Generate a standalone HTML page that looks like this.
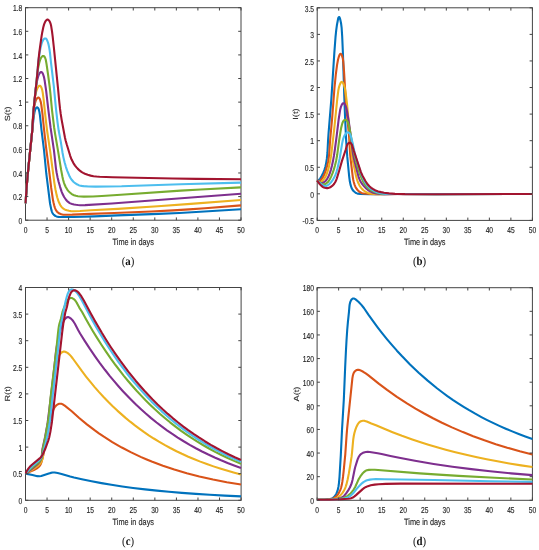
<!DOCTYPE html>
<html><head><meta charset="utf-8"><title>Figure</title>
<style>html,body{margin:0;padding:0;background:#fff;}svg{display:block;}text{text-rendering:geometricPrecision;}</style>
</head><body>
<svg width="539" height="550" viewBox="0 0 539 550" font-family="&quot;Liberation Sans&quot;, Arial, sans-serif">
<clipPath id="ca"><rect x="24.5" y="5.7" width="217" height="216.5"/></clipPath>
<rect x="25.5" y="7.7" width="215.5" height="212.5" fill="none" stroke="#444444" stroke-width="1"/>
<g clip-path="url(#ca)" fill="none" stroke-width="2.1" stroke-linejoin="round" stroke-linecap="butt"><path d="M25.5 203.3 L26.86 184.35 L27.81 173.39 L31.45 137.57 L33.64 117.7 L34.38 112.75 L35.13 109.86 L35.98 108.09 L36.58 107.47 L37.26 107.34 L37.9 107.77 L38.41 108.56 L38.8 109.47 L39.3 111.39 L39.94 115.34 L41.53 130.25 L44.01 150.1 L46.33 173.99 L50.09 203.75 L51.3 209.62 L51.86 211.54 L52.23 212.46 L52.69 213.34 L53.26 214.15 L53.94 214.87 L54.7 215.49 L55.55 216.01 L56.46 216.41 L57.41 216.69 L58.39 216.87 L60.38 217 L73.37 216.97 L94.37 216.39 L117.34 215.39 L158.32 213.84 L179.3 212.93 L200.26 211.79 L241 209.3" stroke="#0072BD"/><path d="M25.5 203.3 L26.78 185.35 L27.63 175.38 L32.24 130.62 L32.52 126.63 L32.96 116.64 L33.3 112.65 L33.71 109.68 L34.4 105.74 L35.06 102.82 L35.65 100.91 L36.48 99.11 L37.03 98.3 L37.7 97.67 L38.43 97.47 L39.1 97.83 L39.61 98.58 L40.01 99.48 L40.87 102.35 L41.38 105.3 L42.49 114.23 L44.12 130.15 L46.28 149.02 L49.28 171.83 L51.16 187.72 L52.9 199.59 L53.5 202.53 L54.23 205.44 L54.78 207.36 L55.48 209.23 L56.47 210.94 L57.11 211.71 L57.82 212.4 L59.46 213.52 L61.29 214.29 L63.24 214.68 L65.23 214.76 L72.23 214.66 L90.21 213.83 L114.19 213.01 L151.16 211.48 L173.14 210.4 L189.11 209.41 L205.06 208.24 L241 205.4" stroke="#D95319"/><path d="M25.5 203.3 L26.78 185.35 L27.63 175.38 L32.24 130.62 L33.38 112.66 L34.35 100.7 L34.78 97.73 L35.38 94.79 L36.12 91.88 L36.72 89.98 L37.48 88.13 L38.5 86.45 L39.15 85.85 L39.87 85.7 L40.54 86.11 L41.06 86.88 L41.48 87.77 L42.13 89.66 L42.72 92.59 L43.64 99.53 L45.4 116.44 L46.92 129.35 L50.15 151.11 L54.36 182.83 L55.51 189.74 L56.55 194.63 L57.28 197.54 L58.18 200.4 L58.93 202.25 L60.25 204.94 L61.32 206.62 L62.65 208.09 L64.27 209.24 L65.16 209.68 L67.04 210.34 L68.98 210.81 L70.96 211.11 L73.95 211.22 L79.95 211.03 L90.92 210.21 L117.88 208.85 L157.8 206.26 L190.71 203.91 L241 200" stroke="#EDB120"/><path d="M25.5 203.3 L27.36 178.37 L28.81 163.44 L32.06 132.61 L32.55 126.63 L33.53 110.66 L35.66 88.77 L36.07 85.8 L36.62 82.85 L37.25 79.91 L38.01 77.01 L38.65 75.12 L39.53 73.34 L40.11 72.57 L40.79 72.05 L41.52 72.04 L42.16 72.55 L42.67 73.35 L43.08 74.25 L44 77.1 L44.74 81.03 L46.16 90.93 L48.35 109.8 L50.58 127.66 L53.95 150.41 L55.94 168.3 L56.55 172.25 L57.51 177.16 L58.69 182.02 L60.07 186.82 L61.61 191.58 L62.73 194.36 L64.13 197.01 L65.81 199.49 L67.11 201 L67.82 201.7 L69.41 202.89 L70.29 203.37 L72.15 204.05 L74.1 204.5 L76.07 204.83 L78.06 205.07 L80.05 205.18 L85.05 205.12 L112 203.43 L124.97 202.53 L241 193.7" stroke="#7E2F8E"/><path d="M25.5 203.3 L26.71 186.34 L27.45 177.37 L28.91 162.44 L32.06 132.61 L32.55 126.63 L33.61 109.67 L36.22 84.8 L37.19 73.85 L37.63 70.88 L38.55 65.96 L39.2 63.04 L40.02 60.15 L40.79 58.32 L41.29 57.46 L41.9 56.69 L42.61 56.11 L43.39 55.93 L44.1 56.27 L44.67 57 L45.11 57.87 L45.77 59.75 L46.47 63.68 L48.07 74.57 L49.63 86.46 L50.39 93.42 L52.03 110.34 L54.1 127.22 L55.15 134.14 L58.21 151.87 L61.08 169.64 L62.38 176.52 L63.01 179.45 L63.81 182.34 L64.49 184.22 L65.72 186.96 L67.24 189.54 L68.46 191.12 L69.85 192.54 L71.41 193.79 L73.11 194.82 L74.02 195.24 L75.92 195.83 L77.89 196.18 L80.87 196.47 L83.86 196.63 L92.86 196.43 L101.85 195.97 L120.81 194.75 L180.67 190.66 L200.64 189.52 L241 187.4" stroke="#77AC30"/><path d="M25.5 203.3 L26.71 186.34 L27.45 177.37 L28.91 162.44 L32.06 132.61 L32.55 126.63 L33.61 109.67 L37.23 74.85 L38.35 60.9 L39.92 51.03 L40.71 47.11 L41.44 44.2 L42.05 42.29 L42.88 40.49 L43.43 39.66 L44.07 38.94 L44.83 38.47 L45.61 38.46 L46.29 38.95 L46.82 39.74 L47.24 40.63 L47.95 42.5 L48.52 44.41 L49.14 47.35 L49.64 50.3 L50.03 53.28 L50.94 62.23 L53.8 86.06 L55.98 108.96 L57.6 122.86 L58.73 130.78 L60.6 140.6 L62.49 152.45 L63.42 157.37 L64.58 162.23 L65.96 167.04 L67.27 170.81 L69.16 175.44 L70.53 178.1 L71.65 179.75 L73.67 181.96 L75.21 183.23 L76.89 184.31 L78.7 185.15 L79.64 185.46 L81.59 185.89 L83.57 186.13 L88.56 186.47 L95.56 186.59 L121.56 186.29 L180.52 184.28 L241 182.6" stroke="#4DBEEE"/><path d="M25.5 203.3 L26.78 185.35 L27.63 175.38 L32.24 130.62 L33.31 113.65 L33.7 108.67 L37.04 76.84 L38.51 59.91 L39.27 52.95 L40.16 46.01 L41.59 36.11 L42.27 32.17 L43.3 27.28 L44.08 24.38 L44.82 22.53 L45.8 20.8 L46.41 20.06 L47.13 19.58 L47.91 19.59 L48.63 20.08 L49.24 20.84 L50.18 22.58 L50.54 23.51 L51.05 25.44 L52.01 31.36 L52.65 36.32 L53.84 47.25 L57.9 87.05 L59.29 101.98 L60.04 108.94 L60.71 113.9 L61.66 119.82 L64.94 137.52 L65.62 140.44 L66.7 144.29 L70.2 155.77 L71.6 159.51 L73.42 163.07 L75.06 165.58 L76.3 167.15 L77.64 168.63 L79.83 170.67 L81.43 171.87 L83.13 172.91 L84.92 173.8 L87.73 174.85 L90.62 175.63 L93.57 176.19 L96.55 176.53 L99.54 176.74 L112.53 177.22 L172.52 178.47 L196.52 178.83 L241 179.3" stroke="#A2142F"/></g>
<path d="M25.5 220.2v-2.8M25.5 7.7v2.8M47.05 220.2v-2.8M47.05 7.7v2.8M68.6 220.2v-2.8M68.6 7.7v2.8M90.15 220.2v-2.8M90.15 7.7v2.8M111.7 220.2v-2.8M111.7 7.7v2.8M133.25 220.2v-2.8M133.25 7.7v2.8M154.8 220.2v-2.8M154.8 7.7v2.8M176.35 220.2v-2.8M176.35 7.7v2.8M197.9 220.2v-2.8M197.9 7.7v2.8M219.45 220.2v-2.8M219.45 7.7v2.8M241 220.2v-2.8M241 7.7v2.8M25.5 220.2h2.8M241 220.2h-2.8M25.5 196.59h2.8M241 196.59h-2.8M25.5 172.98h2.8M241 172.98h-2.8M25.5 149.37h2.8M241 149.37h-2.8M25.5 125.76h2.8M241 125.76h-2.8M25.5 102.14h2.8M241 102.14h-2.8M25.5 78.53h2.8M241 78.53h-2.8M25.5 54.92h2.8M241 54.92h-2.8M25.5 31.31h2.8M241 31.31h-2.8M25.5 7.7h2.8M241 7.7h-2.8" stroke="#444444" stroke-width="1" fill="none"/>
<g font-size="8.6" fill="#262626" stroke="#262626" stroke-width="0.15"><text transform="translate(25.5 232.7) scale(0.78 1)" text-anchor="middle">0</text><text transform="translate(47.05 232.7) scale(0.78 1)" text-anchor="middle">5</text><text transform="translate(68.6 232.7) scale(0.78 1)" text-anchor="middle">10</text><text transform="translate(90.15 232.7) scale(0.78 1)" text-anchor="middle">15</text><text transform="translate(111.7 232.7) scale(0.78 1)" text-anchor="middle">20</text><text transform="translate(133.25 232.7) scale(0.78 1)" text-anchor="middle">25</text><text transform="translate(154.8 232.7) scale(0.78 1)" text-anchor="middle">30</text><text transform="translate(176.35 232.7) scale(0.78 1)" text-anchor="middle">35</text><text transform="translate(197.9 232.7) scale(0.78 1)" text-anchor="middle">40</text><text transform="translate(219.45 232.7) scale(0.78 1)" text-anchor="middle">45</text><text transform="translate(241 232.7) scale(0.78 1)" text-anchor="middle">50</text><text transform="translate(22.3 223.9) scale(0.78 1)" text-anchor="end">0</text><text transform="translate(22.3 200.29) scale(0.78 1)" text-anchor="end">0.2</text><text transform="translate(22.3 176.68) scale(0.78 1)" text-anchor="end">0.4</text><text transform="translate(22.3 153.07) scale(0.78 1)" text-anchor="end">0.6</text><text transform="translate(22.3 129.46) scale(0.78 1)" text-anchor="end">0.8</text><text transform="translate(22.3 105.84) scale(0.78 1)" text-anchor="end">1</text><text transform="translate(22.3 82.23) scale(0.78 1)" text-anchor="end">1.2</text><text transform="translate(22.3 58.62) scale(0.78 1)" text-anchor="end">1.4</text><text transform="translate(22.3 35.01) scale(0.78 1)" text-anchor="end">1.6</text><text transform="translate(22.3 11.4) scale(0.78 1)" text-anchor="end">1.8</text></g>
<text transform="translate(133.25 244.8) scale(0.8 1)" text-anchor="middle" font-size="9.2" fill="#262626" stroke="#262626" stroke-width="0.15">Time in days</text>
<text transform="translate(9.6 113.95) scale(0.8 1) rotate(-90)" text-anchor="middle" font-size="9.2" fill="#262626" stroke="#262626" stroke-width="0.15">S(t)</text>
<text transform="translate(128.05 264.7) scale(0.9 1)" text-anchor="middle" font-size="12.0" fill="#111" font-family="&quot;Liberation Serif&quot;, serif">(<tspan font-weight="bold">a</tspan>)</text>
<clipPath id="cb"><rect x="316.2" y="5.8" width="216.7" height="216.6"/></clipPath>
<rect x="317.2" y="7.8" width="215.2" height="212.6" fill="none" stroke="#444444" stroke-width="1"/>
<g clip-path="url(#cb)" fill="none" stroke-width="2.1" stroke-linejoin="round" stroke-linecap="butt"><path d="M317 180.5 L317.95 180.36 L318.82 180 L319.54 179.38 L320.15 178.61 L321.21 176.92 L323.43 172.44 L324.53 169.65 L325.36 166.77 L326.19 162.86 L326.81 158.91 L327.43 152.94 L328.08 139.96 L328.57 132.98 L331.34 99.09 L334.32 53.19 L335.5 37.23 L336.2 30.27 L336.88 25.31 L338.17 18.44 L338.46 17.56 L338.86 17.01 L339.32 17.11 L339.72 17.78 L340.29 19.66 L341.1 23.58 L341.61 27.54 L342.19 36.52 L342.93 53.51 L344.18 93.49 L345.08 117.47 L346.15 140.44 L347.24 156.41 L349.16 176.31 L349.81 181.27 L350.65 185.18 L351.58 188.02 L352.54 189.76 L353.8 191.3 L355.34 192.55 L356.21 193.03 L357.13 193.4 L358.09 193.65 L360.07 193.87 L369.06 194.16 L400.06 194 L532.4 194" stroke="#0072BD"/><path d="M317 180.5 L317.89 180.89 L318.79 181.08 L319.66 180.9 L320.43 180.37 L321.11 179.66 L322.88 177.25 L324.24 174.59 L325.67 170.85 L327.11 166.07 L328.23 161.19 L328.83 157.24 L329.24 153.26 L330.19 139.3 L332.05 119.38 L334.42 88.47 L335.79 74.54 L337.11 64.63 L338 59.71 L338.82 56.83 L339.5 54.96 L339.96 54.17 L340.52 53.78 L341.12 54.03 L341.61 54.74 L341.99 55.64 L342.81 58.52 L343.25 61.48 L343.96 70.45 L345.65 98.4 L346.81 112.35 L349.06 136.25 L350.14 154.22 L350.74 160.18 L352.79 177.06 L353.3 180.02 L353.76 181.96 L354.62 184.83 L355.37 186.68 L356.34 188.43 L357.54 190.01 L358.97 191.4 L359.77 191.99 L361.53 192.89 L362.48 193.2 L364.44 193.56 L370.42 193.98 L375.42 194.13 L398.42 194 L532.4 194" stroke="#D95319"/><path d="M317 180.5 L318.7 181.54 L319.58 181.92 L320.49 182.02 L321.35 181.74 L322.13 181.17 L322.82 180.47 L324.67 178.11 L326.13 175.5 L327.23 172.71 L328.63 167.91 L330.35 160.1 L331.01 156.15 L331.68 151.2 L334.5 126.36 L337.3 98.5 L338.31 90.57 L338.87 87.62 L339.77 84.76 L340.58 82.96 L341.13 82.23 L341.78 81.91 L342.45 82.19 L343 82.9 L343.46 83.77 L344.19 85.63 L344.91 88.53 L345.73 93.47 L347.06 104.38 L348.93 124.3 L350.42 138.22 L351.31 150.18 L351.7 154.16 L352.67 160.08 L355.77 174.76 L356.45 177.68 L357.33 180.54 L358.43 183.34 L359.78 186.01 L360.91 187.65 L362.22 189.15 L363.7 190.49 L365.33 191.65 L367.1 192.56 L368.03 192.91 L369.97 193.38 L373.93 193.88 L378.92 194.13 L397.92 194 L532.4 194" stroke="#EDB120"/><path d="M317 180.5 L319.49 182.17 L320.35 182.65 L321.27 182.94 L322.21 182.97 L323.13 182.7 L323.98 182.23 L325.49 180.94 L326.16 180.21 L327.33 178.59 L328.73 175.95 L329.85 173.17 L331.03 169.34 L332 165.46 L333.06 160.58 L333.95 155.66 L334.84 149.72 L336.68 135.85 L338.72 118.97 L340.11 110.08 L340.82 107.17 L341.55 105.31 L342.01 104.44 L342.57 103.67 L343.24 103.22 L343.96 103.3 L344.58 103.89 L345.08 104.72 L345.51 105.62 L346.18 107.5 L346.88 110.41 L348.54 120.27 L349.28 125.22 L350.48 134.14 L352.17 148.03 L353.02 153.97 L353.8 157.9 L354.92 162.77 L358.44 176.32 L359.43 179.15 L360.26 180.96 L361.27 182.69 L362.41 184.32 L364.35 186.61 L366.45 188.75 L368.79 190.62 L370.51 191.62 L373.3 192.71 L376.21 193.39 L380.18 193.93 L384.17 194.12 L398.17 194 L436.17 194.08 L532.4 194" stroke="#7E2F8E"/><path d="M317 180.5 L320.17 182.93 L321.86 183.97 L322.78 184.27 L323.74 184.34 L324.69 184.16 L325.6 183.79 L326.44 183.28 L327.94 181.97 L328.58 181.21 L329.67 179.54 L331.03 176.87 L332.59 173.19 L333.88 169.41 L334.98 165.56 L336.14 160.7 L337.2 154.79 L339.07 140.92 L340.44 132.02 L341.14 128.09 L341.81 125.16 L342.35 123.24 L343.14 121.43 L343.72 120.64 L344.44 120.04 L345.27 119.76 L346.09 119.94 L346.81 120.52 L347.39 121.3 L347.85 122.17 L348.5 124.05 L350 130.88 L352.95 147.63 L354.38 154.48 L356.04 161.28 L357.35 166.1 L359.14 171.83 L360.5 175.59 L361.67 178.35 L363.4 181.96 L364.93 184.53 L366.14 186.12 L367.52 187.56 L369.85 189.44 L371.54 190.51 L374.22 191.85 L377.05 192.82 L379.97 193.48 L382.95 193.86 L386.94 194.03 L396.94 193.98 L435.94 194.14 L532.4 194" stroke="#77AC30"/><path d="M317 180.5 L322.38 184.97 L323.22 185.49 L324.12 185.87 L325.07 186.04 L326.03 185.96 L326.96 185.66 L328.64 184.63 L329.41 184 L330.83 182.59 L332.63 180.2 L334.12 177.6 L335.4 174.89 L336.44 172.08 L337.52 168.23 L339.69 158.47 L342.11 143.66 L342.69 140.72 L343.19 138.79 L343.86 136.91 L344.28 136 L344.77 135.13 L345.91 133.51 L346.58 132.8 L347.34 132.35 L348.15 132.35 L348.92 132.8 L349.57 133.51 L350.11 134.34 L350.88 136.17 L352.36 141.98 L354.64 152.74 L355.93 157.57 L357.72 163.3 L360.84 172.8 L362.3 176.52 L363.99 180.14 L365.41 182.78 L366.5 184.46 L367.74 186.03 L369.86 188.13 L371.43 189.37 L373.97 190.95 L375.78 191.81 L377.65 192.49 L380.56 193.22 L383.52 193.7 L386.51 193.93 L389.51 194 L435.51 194.15 L532.4 194" stroke="#4DBEEE"/><path d="M317 180.5 L319.4 183.7 L321.45 185.88 L323.04 187.07 L323.92 187.51 L324.86 187.83 L325.83 188.05 L326.81 188.14 L327.8 188.08 L328.76 187.88 L329.69 187.53 L331.4 186.52 L332.18 185.9 L333.59 184.49 L334.21 183.72 L335.3 182.04 L336.15 180.24 L336.85 178.37 L339.18 170.72 L341.9 161.09 L345.68 149.71 L346.83 145.88 L347.19 144.95 L347.66 144.08 L348.26 143.33 L349 142.8 L349.82 142.69 L350.61 143.04 L351.28 143.72 L351.81 144.54 L352.22 145.44 L353.68 150.22 L360.9 172.05 L362.52 175.71 L365.42 180.96 L367.04 183.48 L368.28 185.04 L369.68 186.47 L371.19 187.78 L372.8 188.95 L374.52 189.97 L376.34 190.78 L378.24 191.41 L381.15 192.14 L384.08 192.75 L389.04 193.4 L395.02 193.83 L405.02 194.1 L435.02 194.24 L532.4 194" stroke="#A2142F"/></g>
<path d="M317.2 220.4v-2.8M317.2 7.8v2.8M338.72 220.4v-2.8M338.72 7.8v2.8M360.24 220.4v-2.8M360.24 7.8v2.8M381.76 220.4v-2.8M381.76 7.8v2.8M403.28 220.4v-2.8M403.28 7.8v2.8M424.8 220.4v-2.8M424.8 7.8v2.8M446.32 220.4v-2.8M446.32 7.8v2.8M467.84 220.4v-2.8M467.84 7.8v2.8M489.36 220.4v-2.8M489.36 7.8v2.8M510.88 220.4v-2.8M510.88 7.8v2.8M532.4 220.4v-2.8M532.4 7.8v2.8M317.2 220.4h2.8M532.4 220.4h-2.8M317.2 193.83h2.8M532.4 193.83h-2.8M317.2 167.25h2.8M532.4 167.25h-2.8M317.2 140.68h2.8M532.4 140.68h-2.8M317.2 114.1h2.8M532.4 114.1h-2.8M317.2 87.53h2.8M532.4 87.53h-2.8M317.2 60.95h2.8M532.4 60.95h-2.8M317.2 34.38h2.8M532.4 34.38h-2.8M317.2 7.8h2.8M532.4 7.8h-2.8" stroke="#444444" stroke-width="1" fill="none"/>
<g font-size="8.6" fill="#262626" stroke="#262626" stroke-width="0.15"><text transform="translate(317.2 232.9) scale(0.78 1)" text-anchor="middle">0</text><text transform="translate(338.72 232.9) scale(0.78 1)" text-anchor="middle">5</text><text transform="translate(360.24 232.9) scale(0.78 1)" text-anchor="middle">10</text><text transform="translate(381.76 232.9) scale(0.78 1)" text-anchor="middle">15</text><text transform="translate(403.28 232.9) scale(0.78 1)" text-anchor="middle">20</text><text transform="translate(424.8 232.9) scale(0.78 1)" text-anchor="middle">25</text><text transform="translate(446.32 232.9) scale(0.78 1)" text-anchor="middle">30</text><text transform="translate(467.84 232.9) scale(0.78 1)" text-anchor="middle">35</text><text transform="translate(489.36 232.9) scale(0.78 1)" text-anchor="middle">40</text><text transform="translate(510.88 232.9) scale(0.78 1)" text-anchor="middle">45</text><text transform="translate(532.4 232.9) scale(0.78 1)" text-anchor="middle">50</text><text transform="translate(314 224.1) scale(0.78 1)" text-anchor="end">-0.5</text><text transform="translate(314 197.53) scale(0.78 1)" text-anchor="end">0</text><text transform="translate(314 170.95) scale(0.78 1)" text-anchor="end">0.5</text><text transform="translate(314 144.38) scale(0.78 1)" text-anchor="end">1</text><text transform="translate(314 117.8) scale(0.78 1)" text-anchor="end">1.5</text><text transform="translate(314 91.23) scale(0.78 1)" text-anchor="end">2</text><text transform="translate(314 64.65) scale(0.78 1)" text-anchor="end">2.5</text><text transform="translate(314 38.08) scale(0.78 1)" text-anchor="end">3</text><text transform="translate(314 11.5) scale(0.78 1)" text-anchor="end">3.5</text></g>
<text transform="translate(424.8 245) scale(0.8 1)" text-anchor="middle" font-size="9.2" fill="#262626" stroke="#262626" stroke-width="0.15">Time in days</text>
<text transform="translate(298.3 114.1) scale(0.8 1) rotate(-90)" text-anchor="middle" font-size="9.2" fill="#262626" stroke="#262626" stroke-width="0.15">I(t)</text>
<text transform="translate(419.6 264.9) scale(0.9 1)" text-anchor="middle" font-size="12.0" fill="#111" font-family="&quot;Liberation Serif&quot;, serif">(<tspan font-weight="bold">b</tspan>)</text>
<clipPath id="cc"><rect x="24.5" y="285.5" width="217.1" height="216.8"/></clipPath>
<rect x="25.5" y="287.5" width="215.6" height="212.8" fill="none" stroke="#444444" stroke-width="1"/>
<g clip-path="url(#cc)" fill="none" stroke-width="2.1" stroke-linejoin="round" stroke-linecap="butt"><path d="M25.6 473.6 L32.47 474.93 L37.31 476.15 L39.29 476.32 L41.24 476 L48.82 473.44 L50.74 472.89 L52.7 472.57 L54.69 472.57 L57.65 473.03 L61.55 473.94 L70.16 476.55 L74.03 477.56 L81.83 479.32 L91.63 481.33 L101.46 483.15 L111.32 484.81 L122.2 486.46 L133.1 487.94 L145.01 489.38 L156.94 490.66 L168.89 491.8 L181.84 492.89 L195.8 493.91 L209.78 494.8 L224.75 495.63 L241 496.39" stroke="#0072BD"/><path d="M25.6 473.6 L33.86 470.02 L36.5 468.62 L38.09 467.42 L38.82 466.74 L40.08 465.21 L40.59 464.35 L41.01 463.45 L41.65 461.56 L43.14 455.75 L48.95 425.3 L50.26 419.45 L51.87 413.67 L52.88 410.85 L53.7 409.02 L54.69 407.29 L55.28 406.49 L56.66 405.07 L57.47 404.5 L58.35 404.07 L59.29 403.8 L60.27 403.71 L61.24 403.82 L62.18 404.1 L63.08 404.52 L64.73 405.63 L71.73 411.28 L79.19 417.95 L86.89 424.33 L94.84 430.39 L98.9 433.3 L103.86 436.68 L112.3 442.04 L121.83 447.54 L130.69 452.17 L140.63 456.88 L146.13 459.28 L151.68 461.56 L162.91 465.78 L174.29 469.58 L186.76 473.24 L199.35 476.48 L213.02 479.53 L226.76 482.19 L241 484.56" stroke="#D95319"/><path d="M25.6 473.6 L29.09 471.65 L31.65 470.08 L38.24 465.55 L39.71 464.21 L40.34 463.44 L41.39 461.75 L42.16 459.92 L42.67 457.99 L43.01 456.02 L43.61 450.05 L43.91 448.07 L44.68 444.15 L46.42 436.34 L49.41 418.59 L49.98 413.63 L51.13 400.68 L52.57 387.76 L54.41 373.88 L55.61 366.98 L56.24 364.05 L56.99 361.15 L58.27 357.36 L59.08 355.54 L60.18 353.89 L61.61 352.51 L62.43 351.99 L63.33 351.65 L64.28 351.58 L65.22 351.78 L66.13 352.16 L67.84 353.18 L69.38 354.44 L70.76 355.88 L72.61 358.24 L81.97 371.22 L86.23 376.78 L89.97 381.46 L94.46 386.84 L99.07 392.1 L103.81 397.25 L108.68 402.29 L112.95 406.5 L117.32 410.61 L125.56 417.89 L130.19 421.7 L134.91 425.41 L138.92 428.41 L143.79 431.9 L148.76 435.27 L153.8 438.52 L158.92 441.65 L164.98 445.15 L170.25 448.01 L176.49 451.2 L181.89 453.8 L188.27 456.69 L193.79 459.03 L200.29 461.63 L206.85 464.07 L213.46 466.37 L220.12 468.53 L226.82 470.56 L233.56 472.46 L241 474.41" stroke="#EDB120"/><path d="M25.6 473.6 L32.7 468.07 L38.1 463.62 L39.43 462.14 L39.98 461.31 L40.88 459.53 L41.48 457.64 L41.81 455.67 L42.25 450.69 L42.52 448.71 L45.09 436.99 L46.29 430.1 L47.26 425.19 L47.71 422.23 L51.04 395.43 L54.63 364.64 L55.85 352.7 L56.4 348.74 L57.09 344.8 L58.3 338.93 L59.85 332.1 L60.93 328.25 L62.52 323.51 L63.77 320.79 L64.87 319.13 L65.52 318.38 L66.25 317.72 L67.07 317.27 L67.98 317.13 L68.9 317.33 L69.77 317.77 L70.58 318.33 L72.04 319.68 L73.29 321.24 L74.88 323.78 L78.12 329.98 L80.1 333.46 L84.86 341.09 L89.77 348.64 L94.85 356.07 L99.5 362.57 L104.91 369.77 L109.87 376.05 L114.33 381.44 L118.25 385.99 L122.92 391.2 L127.02 395.58 L131.91 400.58 L136.2 404.78 L141.32 409.56 L145.79 413.55 L151.12 418.09 L156.57 422.49 L161.32 426.15 L166.97 430.28 L171.9 433.7 L177.74 437.56 L183.68 441.26 L189.72 444.81 L195.84 448.21 L202.04 451.45 L208.32 454.54 L214.67 457.48 L221.09 460.28 L227.57 462.93 L234.1 465.43 L241 467.92" stroke="#7E2F8E"/><path d="M25.6 473.6 L29.94 469.45 L36.92 463.78 L38.42 462.46 L39.75 460.98 L40.33 460.17 L41.28 458.42 L41.61 457.48 L42.18 454.55 L42.7 449.58 L45.32 436.85 L48.57 418.13 L49.02 414.16 L50.5 398.23 L56.23 350.57 L58.04 332.66 L58.52 328.69 L58.98 325.73 L59.42 323.78 L60.84 318.99 L62.46 312.18 L63.4 309.33 L64.87 305.61 L66.12 302.89 L67.59 300.28 L68.21 299.51 L68.93 298.85 L69.76 298.33 L70.66 298.04 L71.6 298.05 L72.51 298.33 L73.37 298.81 L74.16 299.41 L74.86 300.11 L76.08 301.69 L77.11 303.4 L79.42 307.83 L82.1 312.04 L85.9 319.07 L88.87 324.29 L92.93 331.18 L96.58 337.15 L101.41 344.75 L105.84 351.41 L110.98 358.8 L115.69 365.26 L123.64 375.55 L128.08 380.96 L131.98 385.52 L136.62 390.76 L140.7 395.16 L145.56 400.2 L149.82 404.42 L154.9 409.24 L160.09 413.94 L165.4 418.5 L170.03 422.31 L175.54 426.62 L181.16 430.8 L186.89 434.82 L191.88 438.16 L196.93 441.39 L202.92 445.01 L209 448.49 L215.16 451.82 L221.39 454.99 L227.7 458.02 L234.08 460.9 L241 463.84" stroke="#77AC30"/><path d="M25.6 473.6 L28.14 470.51 L30.14 468.27 L33.77 464.85 L38.4 461.03 L39.79 459.6 L41 458.02 L41.96 456.27 L42.99 453.46 L46.43 439.89 L47.31 435.99 L48.24 431.08 L49.77 422.21 L50.49 417.26 L52.38 398.36 L57.81 351.67 L59.9 331.78 L60.68 325.83 L61.04 323.87 L62.19 319 L63.38 312.11 L64.74 305.24 L65.62 301.34 L66.86 296.49 L67.78 293.64 L68.58 291.82 L69.12 290.99 L69.78 290.27 L70.57 289.71 L71.46 289.42 L72.4 289.43 L73.32 289.72 L74.19 290.18 L74.99 290.76 L75.73 291.43 L77.05 292.92 L79.37 296.18 L81.86 300.51 L88.84 313.79 L92.17 319.94 L96.09 326.92 L100.13 333.83 L104.81 341.51 L109.11 348.26 L114.11 355.74 L118.69 362.3 L126.44 372.74 L130.77 378.23 L134.58 382.87 L139.13 388.19 L143.12 392.67 L147.2 397.07 L151.36 401.39 L156.34 406.31 L161.43 411.11 L166.64 415.79 L171.21 419.68 L176.64 424.1 L182.18 428.37 L187.02 431.92 L192.77 435.91 L198.62 439.75 L203.71 442.92 L209.75 446.48 L215.86 449.88 L222.07 453.12 L228.35 456.21 L234.7 459.14 L241 461.88" stroke="#4DBEEE"/><path d="M25.6 473.6 L26.41 471.78 L27.4 470.04 L28.53 468.39 L29.79 466.84 L31.95 464.77 L39.66 458.41 L41.07 456.99 L41.68 456.21 L42.7 454.5 L45.17 449.04 L48.24 440.58 L49.13 437.71 L50.37 431.85 L51.92 421.97 L62.15 332.55 L63.33 323.63 L65.24 312.8 L66.9 307.04 L68.56 299.22 L69.35 296.33 L70.45 293.54 L71.47 291.85 L72.16 291.16 L72.98 290.65 L73.9 290.37 L74.86 290.36 L75.79 290.59 L76.67 291.02 L77.47 291.6 L78.2 292.28 L79.53 293.77 L81.3 296.18 L83.84 300.49 L90.91 313.72 L94.29 319.85 L101.82 332.82 L106.55 340.48 L110.88 347.2 L115.91 354.67 L120.52 361.21 L128.31 371.61 L135.84 380.95 L140.39 386.27 L144.38 390.76 L152.61 399.48 L157.58 404.41 L162.66 409.23 L167.86 413.91 L172.41 417.82 L177.82 422.26 L183.35 426.56 L188.17 430.13 L193.9 434.15 L198.89 437.48 L204.8 441.23 L210.81 444.83 L216.9 448.27 L222.2 451.09 L228.44 454.25 L234.76 457.26 L241 460.06" stroke="#A2142F"/></g>
<path d="M25.5 500.3v-2.8M25.5 287.5v2.8M47.06 500.3v-2.8M47.06 287.5v2.8M68.62 500.3v-2.8M68.62 287.5v2.8M90.18 500.3v-2.8M90.18 287.5v2.8M111.74 500.3v-2.8M111.74 287.5v2.8M133.3 500.3v-2.8M133.3 287.5v2.8M154.86 500.3v-2.8M154.86 287.5v2.8M176.42 500.3v-2.8M176.42 287.5v2.8M197.98 500.3v-2.8M197.98 287.5v2.8M219.54 500.3v-2.8M219.54 287.5v2.8M241.1 500.3v-2.8M241.1 287.5v2.8M25.5 500.3h2.8M241.1 500.3h-2.8M25.5 473.7h2.8M241.1 473.7h-2.8M25.5 447.1h2.8M241.1 447.1h-2.8M25.5 420.5h2.8M241.1 420.5h-2.8M25.5 393.9h2.8M241.1 393.9h-2.8M25.5 367.3h2.8M241.1 367.3h-2.8M25.5 340.7h2.8M241.1 340.7h-2.8M25.5 314.1h2.8M241.1 314.1h-2.8M25.5 287.5h2.8M241.1 287.5h-2.8" stroke="#444444" stroke-width="1" fill="none"/>
<g font-size="8.6" fill="#262626" stroke="#262626" stroke-width="0.15"><text transform="translate(25.5 512.8) scale(0.78 1)" text-anchor="middle">0</text><text transform="translate(47.06 512.8) scale(0.78 1)" text-anchor="middle">5</text><text transform="translate(68.62 512.8) scale(0.78 1)" text-anchor="middle">10</text><text transform="translate(90.18 512.8) scale(0.78 1)" text-anchor="middle">15</text><text transform="translate(111.74 512.8) scale(0.78 1)" text-anchor="middle">20</text><text transform="translate(133.3 512.8) scale(0.78 1)" text-anchor="middle">25</text><text transform="translate(154.86 512.8) scale(0.78 1)" text-anchor="middle">30</text><text transform="translate(176.42 512.8) scale(0.78 1)" text-anchor="middle">35</text><text transform="translate(197.98 512.8) scale(0.78 1)" text-anchor="middle">40</text><text transform="translate(219.54 512.8) scale(0.78 1)" text-anchor="middle">45</text><text transform="translate(241.1 512.8) scale(0.78 1)" text-anchor="middle">50</text><text transform="translate(22.3 504) scale(0.78 1)" text-anchor="end">0</text><text transform="translate(22.3 477.4) scale(0.78 1)" text-anchor="end">0.5</text><text transform="translate(22.3 450.8) scale(0.78 1)" text-anchor="end">1</text><text transform="translate(22.3 424.2) scale(0.78 1)" text-anchor="end">1.5</text><text transform="translate(22.3 397.6) scale(0.78 1)" text-anchor="end">2</text><text transform="translate(22.3 371) scale(0.78 1)" text-anchor="end">2.5</text><text transform="translate(22.3 344.4) scale(0.78 1)" text-anchor="end">3</text><text transform="translate(22.3 317.8) scale(0.78 1)" text-anchor="end">3.5</text><text transform="translate(22.3 291.2) scale(0.78 1)" text-anchor="end">4</text></g>
<text transform="translate(133.3 524.9) scale(0.8 1)" text-anchor="middle" font-size="9.2" fill="#262626" stroke="#262626" stroke-width="0.15">Time in days</text>
<text transform="translate(9.7 393.9) scale(0.8 1) rotate(-90)" text-anchor="middle" font-size="9.2" fill="#262626" stroke="#262626" stroke-width="0.15">R(t)</text>
<text transform="translate(128.1 544.8) scale(0.9 1)" text-anchor="middle" font-size="12.0" fill="#111" font-family="&quot;Liberation Serif&quot;, serif">(<tspan font-weight="bold">c</tspan>)</text>
<clipPath id="cd"><rect x="316.1" y="285.7" width="216.8" height="216.6"/></clipPath>
<rect x="317.1" y="287.7" width="215.3" height="212.6" fill="none" stroke="#444444" stroke-width="1"/>
<g clip-path="url(#cd)" fill="none" stroke-width="2.1" stroke-linejoin="round" stroke-linecap="butt"><path d="M317.1 499.8 L324.1 499.7 L328.09 499.42 L330.06 499.13 L331.03 498.88 L331.95 498.53 L332.82 498.05 L333.61 497.46 L334.96 496.01 L335.53 495.19 L336.49 493.45 L337.56 490.65 L338.45 486.75 L338.99 482.79 L339.51 476.81 L340.82 454.85 L342.01 429.88 L343.85 398.94 L345.17 366.96 L345.93 350.98 L346.54 340 L347.21 330.02 L347.9 322.05 L348.95 312.11 L349.45 306.13 L349.72 304.15 L350.2 302.22 L351 300.4 L351.53 299.57 L352.2 298.89 L353 298.51 L353.89 298.52 L354.78 298.87 L355.61 299.4 L358.67 301.96 L361.4 304.87 L363.9 308 L368.37 314.63 L373.61 321.95 L377.8 327.55 L382.09 333.08 L387.12 339.31 L391.63 344.66 L396.91 350.67 L401.65 355.82 L410.01 364.43 L418.69 372.71 L427.69 380.66 L436.98 388.24 L442.55 392.49 L447.39 396.03 L453.13 400.03 L458.13 403.35 L464.04 407.1 L469.17 410.21 L475.24 413.7 L481.39 417.05 L486.71 419.81 L492.99 422.91 L499.33 425.87 L505.74 428.7 L512.2 431.39 L518.71 433.96 L525.27 436.4 L532.4 438.91" stroke="#0072BD"/><path d="M317.1 499.8 L325.1 499.7 L329.09 499.41 L331.06 499.12 L332.03 498.89 L333.88 498.16 L334.74 497.66 L336.27 496.4 L336.93 495.66 L338.12 494.05 L339.16 492.35 L340.06 490.56 L341.09 487.75 L341.8 484.84 L342.33 481.89 L343.01 476.94 L343.68 470.97 L345.31 454.05 L346.6 435.1 L347.17 428.12 L352.37 378.39 L352.89 375.44 L353.48 373.54 L353.91 372.64 L354.44 371.81 L355.09 371.07 L355.86 370.48 L356.74 370.07 L357.69 369.86 L358.66 369.85 L359.62 370.05 L360.56 370.39 L363.21 371.77 L365.72 373.41 L368.14 375.18 L379.07 383.92 L387.08 389.92 L396.9 396.81 L406.96 403.36 L415.5 408.55 L424.19 413.5 L433.01 418.22 L441.95 422.69 L451.92 427.34 L462.94 432.09 L473.16 436.16 L484.42 440.31 L495.78 444.16 L507.24 447.72 L519.74 451.28 L532.4 454.56" stroke="#D95319"/><path d="M317.1 499.8 L324.1 499.76 L328.09 499.58 L332.06 499.1 L334.02 498.7 L335.94 498.16 L337.78 497.39 L338.62 496.87 L340.15 495.6 L342.11 493.33 L343.8 490.86 L345.14 488.18 L345.85 486.31 L346.44 484.41 L347.64 479.55 L348.81 473.67 L350.16 465.78 L351.54 456.89 L352.1 451.92 L353.19 439.97 L353.77 436.01 L354.41 433.09 L355.22 430.2 L355.87 428.31 L356.62 426.46 L357.52 424.68 L358.65 423.03 L359.32 422.31 L360.09 421.69 L360.94 421.22 L361.88 420.92 L362.86 420.79 L363.85 420.79 L364.83 420.91 L366.75 421.43 L371.33 423.42 L376 425.22 L384.25 428.8 L392.58 432.21 L401.92 435.8 L412.28 439.5 L419.86 442.04 L428.44 444.74 L437.07 447.3 L445.74 449.71 L455.42 452.23 L466.11 454.81 L475.87 457 L486.64 459.24 L497.44 461.32 L509.26 463.41 L521.1 465.34 L532.4 467.02" stroke="#EDB120"/><path d="M317.1 499.8 L328.1 499.68 L333.09 499.38 L336.07 499.04 L339.01 498.47 L340.92 497.91 L342.69 497.02 L344.22 495.74 L346.13 493.44 L348.38 490.14 L349.87 487.54 L351.09 484.8 L351.74 482.91 L352.5 480.01 L354.47 470.21 L355.16 467.29 L357.22 460.6 L357.91 458.72 L358.74 456.91 L359.81 455.23 L360.47 454.5 L361.23 453.86 L362.94 452.86 L364.83 452.23 L365.8 452.05 L367.79 451.92 L369.79 452.01 L377.69 453.23 L381.62 453.96 L390.41 455.92 L399.22 457.77 L414.93 460.78 L433.66 463.95 L452.46 466.73 L471.3 469.16 L490.18 471.29 L511.08 473.33 L532.4 475.12" stroke="#7E2F8E"/><path d="M317.1 499.8 L329.1 499.71 L333.1 499.53 L337.08 499.22 L340.05 498.77 L342.96 498.07 L344.84 497.4 L346.62 496.51 L348.29 495.41 L350.55 493.44 L351.9 491.97 L353.7 489.58 L355.19 486.98 L358.04 480.59 L358.93 478.8 L360.49 476.24 L362.27 473.82 L363.6 472.34 L365.13 471.08 L365.99 470.6 L366.92 470.24 L368.86 469.86 L371.86 469.7 L374.85 469.78 L419.71 473.35 L438.67 474.67 L458.63 475.91 L494.58 477.81 L532.4 479.43" stroke="#77AC30"/><path d="M317.1 499.8 L330.1 499.7 L337.09 499.36 L342.05 498.78 L345 498.2 L346.92 497.66 L348.74 496.87 L349.6 496.36 L350.42 495.79 L351.94 494.5 L353.33 493.06 L356.45 489.16 L359.77 485.42 L361.89 483.31 L363.46 482.07 L365.18 481.08 L367.04 480.35 L369.95 479.64 L372.92 479.24 L375.91 479.15 L384.91 479.23 L433.91 480.03 L490.89 481.22 L532.4 481.9" stroke="#4DBEEE"/><path d="M317.1 499.8 L330.1 499.71 L337.1 499.51 L348.07 498.81 L350.05 498.56 L351.01 498.31 L352.82 497.51 L354.47 496.38 L356.01 495.11 L362.7 489.1 L364.31 487.91 L366.04 486.92 L367.88 486.15 L370.76 485.33 L374.7 484.62 L378.67 484.2 L385.66 483.88 L400.66 483.61 L532.4 483.8" stroke="#A2142F"/></g>
<path d="M317.1 500.3v-2.8M317.1 287.7v2.8M338.63 500.3v-2.8M338.63 287.7v2.8M360.16 500.3v-2.8M360.16 287.7v2.8M381.69 500.3v-2.8M381.69 287.7v2.8M403.22 500.3v-2.8M403.22 287.7v2.8M424.75 500.3v-2.8M424.75 287.7v2.8M446.28 500.3v-2.8M446.28 287.7v2.8M467.81 500.3v-2.8M467.81 287.7v2.8M489.34 500.3v-2.8M489.34 287.7v2.8M510.87 500.3v-2.8M510.87 287.7v2.8M532.4 500.3v-2.8M532.4 287.7v2.8M317.1 500.3h2.8M532.4 500.3h-2.8M317.1 476.68h2.8M532.4 476.68h-2.8M317.1 453.06h2.8M532.4 453.06h-2.8M317.1 429.43h2.8M532.4 429.43h-2.8M317.1 405.81h2.8M532.4 405.81h-2.8M317.1 382.19h2.8M532.4 382.19h-2.8M317.1 358.57h2.8M532.4 358.57h-2.8M317.1 334.94h2.8M532.4 334.94h-2.8M317.1 311.32h2.8M532.4 311.32h-2.8M317.1 287.7h2.8M532.4 287.7h-2.8" stroke="#444444" stroke-width="1" fill="none"/>
<g font-size="8.6" fill="#262626" stroke="#262626" stroke-width="0.15"><text transform="translate(317.1 512.8) scale(0.78 1)" text-anchor="middle">0</text><text transform="translate(338.63 512.8) scale(0.78 1)" text-anchor="middle">5</text><text transform="translate(360.16 512.8) scale(0.78 1)" text-anchor="middle">10</text><text transform="translate(381.69 512.8) scale(0.78 1)" text-anchor="middle">15</text><text transform="translate(403.22 512.8) scale(0.78 1)" text-anchor="middle">20</text><text transform="translate(424.75 512.8) scale(0.78 1)" text-anchor="middle">25</text><text transform="translate(446.28 512.8) scale(0.78 1)" text-anchor="middle">30</text><text transform="translate(467.81 512.8) scale(0.78 1)" text-anchor="middle">35</text><text transform="translate(489.34 512.8) scale(0.78 1)" text-anchor="middle">40</text><text transform="translate(510.87 512.8) scale(0.78 1)" text-anchor="middle">45</text><text transform="translate(532.4 512.8) scale(0.78 1)" text-anchor="middle">50</text><text transform="translate(313.9 504) scale(0.78 1)" text-anchor="end">0</text><text transform="translate(313.9 480.38) scale(0.78 1)" text-anchor="end">20</text><text transform="translate(313.9 456.76) scale(0.78 1)" text-anchor="end">40</text><text transform="translate(313.9 433.13) scale(0.78 1)" text-anchor="end">60</text><text transform="translate(313.9 409.51) scale(0.78 1)" text-anchor="end">80</text><text transform="translate(313.9 385.89) scale(0.78 1)" text-anchor="end">100</text><text transform="translate(313.9 362.27) scale(0.78 1)" text-anchor="end">120</text><text transform="translate(313.9 338.64) scale(0.78 1)" text-anchor="end">140</text><text transform="translate(313.9 315.02) scale(0.78 1)" text-anchor="end">160</text><text transform="translate(313.9 291.4) scale(0.78 1)" text-anchor="end">180</text></g>
<text transform="translate(424.75 524.9) scale(0.8 1)" text-anchor="middle" font-size="9.2" fill="#262626" stroke="#262626" stroke-width="0.15">Time in days</text>
<text transform="translate(299.2 394) scale(0.8 1) rotate(-90)" text-anchor="middle" font-size="9.2" fill="#262626" stroke="#262626" stroke-width="0.15">A(t)</text>
<text transform="translate(419.55 544.8) scale(0.9 1)" text-anchor="middle" font-size="12.0" fill="#111" font-family="&quot;Liberation Serif&quot;, serif">(<tspan font-weight="bold">d</tspan>)</text>
</svg>
</body></html>
